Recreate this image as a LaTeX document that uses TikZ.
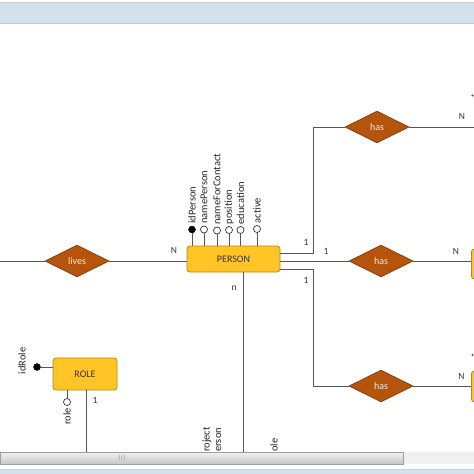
\documentclass[tikz,border=0pt]{standalone}
\usepackage{fontspec}
\setmainfont{Carlito}
\usetikzlibrary{shapes.geometric,calc}
\definecolor{entfill}{HTML}{FFC425}
\definecolor{entdraw}{HTML}{B8860B}
\definecolor{relfill}{HTML}{B5540C}
\definecolor{reldraw}{HTML}{7A3806}
\definecolor{linec}{HTML}{555555}
\definecolor{barblue}{HTML}{D3E0EE}
\tikzset{
  entity/.style={rectangle, rounded corners=3pt, fill=entfill, draw=entdraw, line width=0.8pt, font=\fontsize{10}{12}\selectfont, text=black!80, inner sep=0pt},
  rel/.style={diamond, aspect=2, minimum width=64pt, minimum height=32pt, inner sep=0pt, fill=relfill, draw=reldraw, line width=0.6pt, text=white!92!black, font=\fontsize{10}{12}\selectfont},
  conn/.style={draw=linec, line width=1pt},
  keyattr/.style={circle, fill=black, draw=black, minimum size=7pt, inner sep=0pt},
  attr/.style={circle, fill=white, draw=black!80, line width=0.7pt, minimum size=7pt, inner sep=0pt},
  attrtext/.style={rotate=90, anchor=west, font=\fontsize{10.5}{12}\selectfont, inner sep=0pt, text=black!85},
  card/.style={font=\fontsize{9.5}{11}\selectfont, inner sep=0pt, text=black!80}
}
\begin{document}
\begin{tikzpicture}[x=1pt,y=-1pt]
\useasboundingbox (0,0) rectangle (474,474);
\clip (0,0) rectangle (474,474);
\fill[white] (0,0) rectangle (474,474);
% top bar
\fill[barblue] (0,3) rectangle (474,23);
\draw[black!20, line width=0.8pt] (0,2) -- (474,2);
\draw[black!22, line width=0.6pt] (0,23) -- (474,23);

% entities
\node[entity, minimum width=93pt, minimum height=26pt] (person) at (233.5,259) {PERSON};
\node[entity, minimum width=64pt, minimum height=32pt] (role) at (85,374) {ROLE};
\node[entity, minimum width=40pt, minimum height=30pt, anchor=west] (ent2) at (471,264) {};
\node[entity, minimum width=40pt, minimum height=31pt, anchor=west] (ent3) at (471,386.5) {};

% relationships
\node[rel] (lives) at (77,261) {lives};
\node[rel] (has1) at (377,127) {has};
\node[rel] (has2) at (381,261) {has};
\node[rel] (has3) at (381,386) {has};

% coordinates for free ends
\coordinate (leftend) at (-2,261);
\coordinate (r1) at (480,127);
\coordinate (bendx) at (313,0);
\coordinate (pdown) at (243,455);
\coordinate (rdown) at (86,455);

% connectors
\draw[conn] (leftend) -- (lives.west);
\draw[conn] (lives.east) -- (lives -| person.west);
\draw[conn] ([yshift=6pt]person.east) -| (has1.west -| bendx) -- (has1.west);
\draw[conn] (has1.east) -- (has1.east -| r1);
\draw[conn] (person.east |- has2) -- (has2.west);
\draw[conn] (has2.east) -- (has2 -| ent2.west);
\draw[conn] ([yshift=-10pt]person.east) -| (has3.west -| bendx) -- (has3.west);
\draw[conn] (has3.east) -- (has3 -| ent3.west);
\draw[conn] (person.south -| pdown) -- (pdown);
\draw[conn] (role.south -| rdown) -- (rdown);

% person attributes
\node[keyattr] (aid) at (192,229.5) {};
\node[attr] (aname) at (204,229.5) {};
\node[attr] (acont) at (217,230.5) {};
\node[attr] (apos) at (229,230) {};
\node[attr] (aedu) at (240.5,230) {};
\node[attr] (aact) at (257,229) {};
\foreach \a in {aid,aname,acont,apos,aedu,aact}{
  \draw[conn, line width=0.7pt] (person.north -| \a) -- (\a);
}
\node[attrtext] (tid) at (192,224) {idPerson};
\node[attrtext] (tname) at (204,224) {namePerson};
\node[attrtext] (tcont) at (217,225) {nameForContact};
\node[attrtext] (tpos) at (229,224.5) {position};
\node[attrtext] (tedu) at (240.5,224.5) {education};
\node[attrtext] (tact) at (257,223.5) {active};

% role attributes
\node[keyattr] (rid) at (37,367) {};
\draw[conn, line width=0.7pt] (rid) -- (rid -| role.west);
\node[attrtext, anchor=center] (tridr) at (22,361) {idRole};
\node[attr] (rrole) at (67,402) {};
\draw[conn, line width=0.7pt] (role.south -| rrole) -- (rrole);
\node[attrtext, anchor=east] (trole) at (67,408) {role};

% small fragments at right edge
\fill[black!70] (472.5,95.5) circle (1.2pt);
\fill[black!70] (472.5,355) circle (1.2pt);

% cardinalities
\node[card] (cN1) at (174,250) {N};
\node[card] (cn) at (234,288) {n};
\node[card] (c1a) at (306,242.5) {1};
\node[card] (c1b) at (326,251) {1};
\node[card] (c1c) at (306,280) {1};
\node[card] (cN2) at (462,116) {N};
\node[card] (cN3) at (456,251) {N};
\node[card] (cN4) at (461.5,376) {N};
\node[card] (c1r) at (95,400.5) {1};

% clipped bottom texts
\node[attrtext] (tproj) at (207,452) {roject};
\node[attrtext] (tpers) at (218.5,452) {erson};
\node[attrtext] (tole) at (274,452) {ole};

% scrollbar
\fill[white] (0,452) rectangle (474,474);
\fill[black!6] (403,452) rectangle (474,464);
\shade[top color=black!6, bottom color=black!22, draw=black!38, line width=0.5pt] (0,452.5) rectangle (403,464);
\node[font=\fontsize{6}{6}\selectfont, text=black!55, inner sep=0pt] (grip) at (122,458) {|||};
\fill[barblue] (0,469) rectangle (474,474);
\draw[black!18, line width=0.6pt] (0,469) -- (474,469);
\end{tikzpicture}
\end{document}
